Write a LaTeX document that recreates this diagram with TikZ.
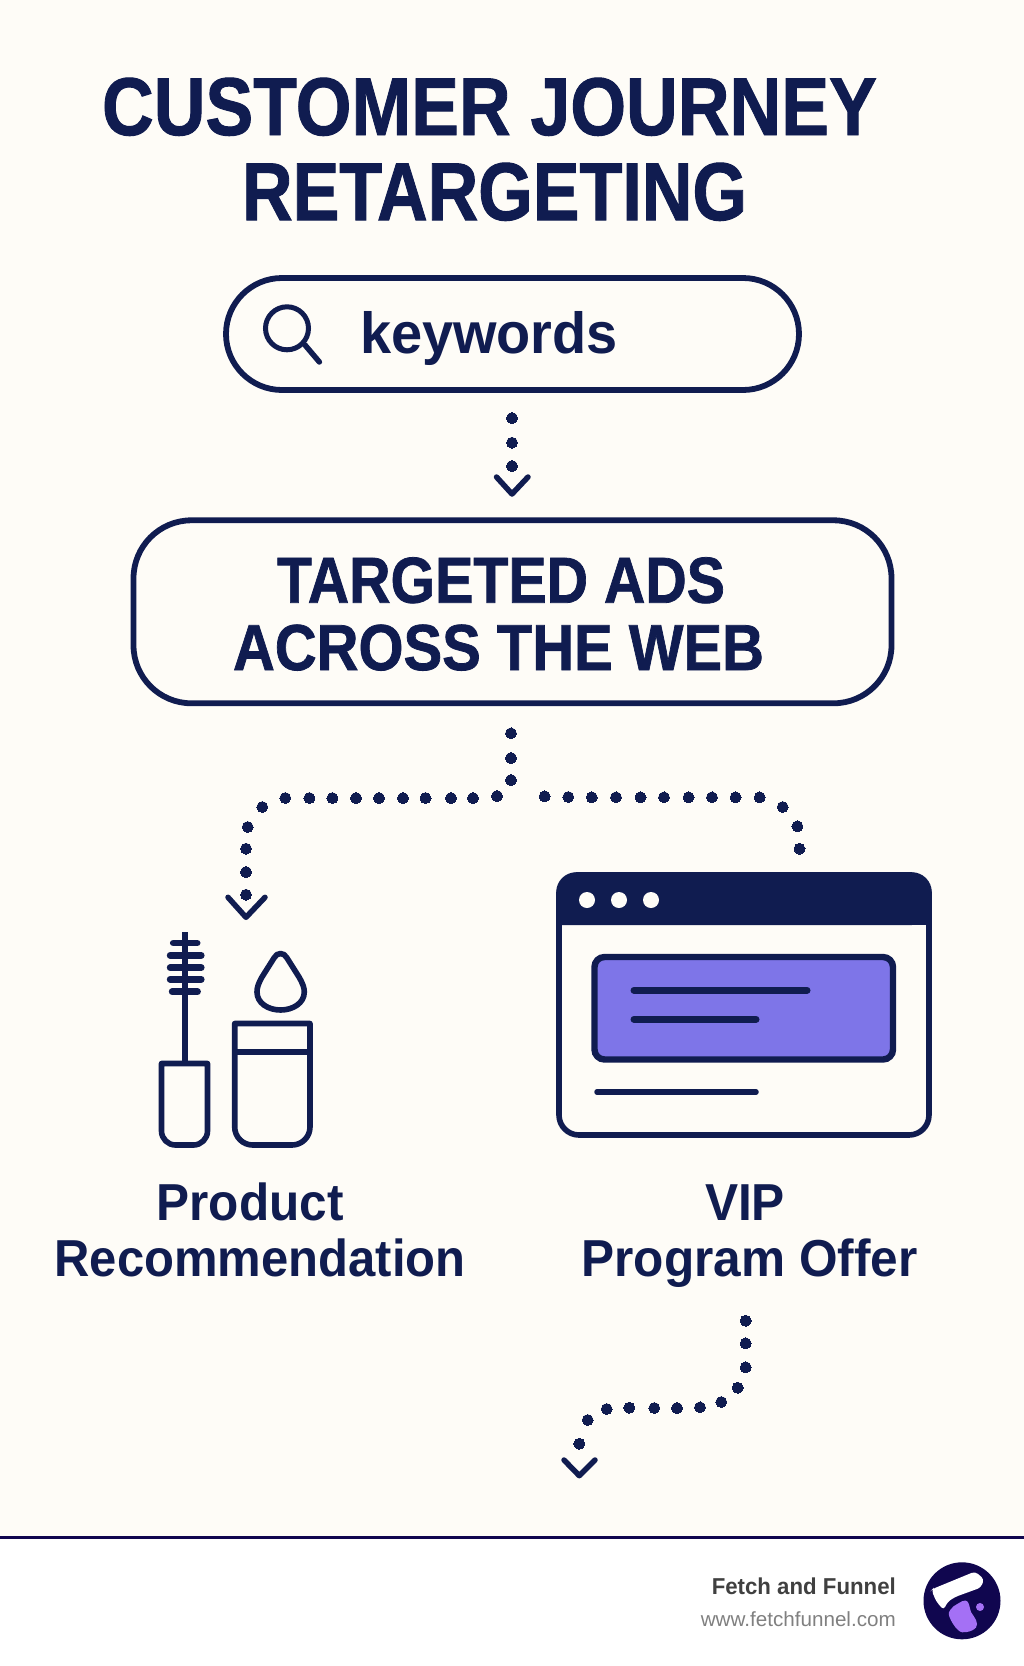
\documentclass[tikz,border=0pt]{standalone}
\usepackage{fontspec}
\usepackage{graphicx}
\setmainfont{Liberation Sans}
\newfontfamily\heavy[BoldFeatures={FakeBold=1.2}]{Liberation Sans}
\definecolor{navy}{HTML}{101C50}
\definecolor{cream}{HTML}{FEFCF7}
\definecolor{violet}{HTML}{7E75E8}
\definecolor{rulec}{HTML}{10064F}
\definecolor{logoviolet}{HTML}{A470F5}
\newcommand{\fitline}[3]{\resizebox{#1pt}{\height}{\fontsize{#2pt}{#2pt}\selectfont\bfseries #3}}
\newcommand{\fitheavy}[3]{\resizebox{#1pt}{\height}{\fontsize{#2pt}{#2pt}\selectfont\heavy\bfseries #3}}
\tikzset{
  x=1pt,y=-1pt,
  txt/.style={inner sep=0pt,outer sep=0pt,text=navy,anchor=base west},
  pill/.style={draw=navy,line width=5.8pt,fill=cream,inner sep=0pt,outer sep=0pt},
  chev/.style={draw=navy,line width=5.5pt,line cap=round,line join=round},
  icon/.style={draw=navy,line width=5.6pt,line join=round},
  dotpath/.style={only marks,mark=*,mark size=5.5pt,mark options={draw=navy,fill=navy,line width=0pt}},
}
\begin{document}
\begin{tikzpicture}
\useasboundingbox (0,0) rectangle (1024,1666);
\fill[cream] (0,0) rectangle (1024,1537);
\fill[white] (0,1537) rectangle (1024,1666);
\draw[rulec,line width=3pt] (0,1537.3) -- (1024,1537.3);
\node[txt] (t1) at (102,135) {\fitheavy{775}{82}{CUSTOMER JOURNEY}};
\node[txt] (t2) at (242,220) {\fitheavy{505}{82}{RETARGETING}};
\node[pill,rounded corners=56pt,minimum width=573pt,minimum height=112pt] (search) at (512.5,334) {};
\draw[navy,line width=5pt] (287,328.3) circle (21.5);
\draw[navy,line width=5.5pt,line cap=round] (305,345) -- (319.4,362);
\node[txt] (kw) at (360,353.3) {\fitline{258}{58}{keywords}};
\draw[navy] plot[dotpath] coordinates {(512,418) (512,442.7) (512,466)};
\draw[chev] (496.5,477) -- (512,494) -- (528,477);
\node[pill,rounded corners=58pt,minimum width=758pt,minimum height=183pt] (ads) at (512.5,611.8) {};
\node[txt] (a1) at (277,602.7) {\fitheavy{448}{65}{TARGETED ADS}};
\node[txt] (a2) at (233,670) {\fitheavy{531}{65}{ACROSS THE WEB}};
\draw[navy] plot[dotpath] coordinates {(511,733.3) (511,758) (511,780) (497,796) (473,798) (451,798) (425.5,798) (403,798) (379,798) (356,798) (332.4,798) (309.4,798) (285.3,798) (262.3,807) (247.7,827) (246,848.7) (246,872) (246,894.7)};
\draw[chev] (228,897.3) -- (246,917.3) -- (265,897.3);
\draw[navy] plot[dotpath] coordinates {(544.7,796.3) (568.3,797) (591.8,797.3) (616,797.3) (640.5,797.3) (664,797.3) (688.6,797.3) (712,797.3) (735.6,797.3) (759.7,797.3) (782.7,807) (797.4,826.3) (799.5,848.7)};
\draw[navy] plot[dotpath] coordinates {(745.7,1320.7) (745.7,1343.3) (745.7,1367.3) (737.7,1387.7) (721.3,1402) (700,1407.3) (677,1408) (654.3,1408) (629.3,1407.7) (606.7,1409) (587.7,1420) (579.3,1443.7)};
\draw[chev] (564,1460) -- (579.3,1475.7) -- (595,1460);
% mascara
\draw[navy,line width=5.5pt] (185,932) -- (185,1061);
\foreach \y/\a/\b in {943/170.8/199.6,955.3/167.7/203.7,967.7/167.7/203.7,979.3/167.7/203.7,991.7/169.7/200}
  \draw[navy,line width=6.8pt,line cap=round] (\a+2.5,\y) -- (\b-2.5,\y);
\draw[icon,rounded corners=14pt] (161.5,1063.5) [sharp corners] -- (207.5,1063.5) [rounded corners=14pt] -- (207.5,1145) -- (161.5,1145) [sharp corners] -- cycle;
\draw[icon,rounded corners=18pt] (234.7,1023.5) [sharp corners] -- (310,1023.5) [rounded corners=18pt] -- (310,1145) -- (234.7,1145) [sharp corners] -- cycle;
\draw[icon] (234.7,1051.7) -- (310,1051.7);
\draw[icon] (274,958) .. controls (277,952) and (284,952) .. (287,958) -- (299,977) .. controls (303,984) and (304.3,988) .. (304.3,992) .. controls (304.3,1003) and (293,1010) .. (280.6,1010) .. controls (268,1010) and (257,1003) .. (257,992) .. controls (257,988) and (258,984) .. (262,977) -- cycle;
% browser
\draw[icon,fill=cream,rounded corners=20pt] (559,875) rectangle (929,1135);
\fill[navy,rounded corners=20pt] (556.2,925) -- (556.2,872.2) -- (931.8,872.2) -- (931.8,925) [sharp corners] -- cycle;
\fill[navy] (556.2,900) rectangle (931.8,925);
\foreach \x in {587,619,651} \fill[cream] (\x,900) circle (8);
\draw[draw=navy,line width=6.4pt,fill=violet,rounded corners=10pt] (594.5,957) rectangle (893,1059.5);
\draw[navy,line width=7pt,line cap=round] (634,990.3) -- (807,990.3);
\draw[navy,line width=7pt,line cap=round] (634,1019.3) -- (756,1019.3);
\draw[navy,line width=5.5pt,line cap=round] (597,1092) -- (756,1092);
\node[txt] (p1) at (156.5,1220) {\fitline{187}{52}{Product}};
\node[txt] (p2) at (54.5,1276.5) {\fitline{411}{52}{Recommendation}};
\node[txt] (v1) at (705,1220) {\fitline{80}{52}{VIP}};
\node[txt] (v2) at (581.5,1276.5) {\fitline{336}{52}{Program Offer}};
\node[anchor=base east,inner sep=0pt,text=black!75] (f1) at (896,1594) {\fitline{184}{23}{Fetch and Funnel}};
\node[anchor=base east,inner sep=0pt,text=black!50] (f2) at (896,1626.7) {\resizebox{195pt}{\height}{\fontsize{20.5}{20.5}\selectfont www.fetchfunnel.com}};
% logo
\fill[rulec] (962,1600.8) circle (38.5);
\fill[white,rounded corners=3.5pt] (932.5,1589) -- (975,1571.5) -- (984,1579) -- (981,1587.5) -- (955,1597) -- (947.5,1602) -- (943.5,1610) -- (936,1601) -- (931.5,1590) -- cycle;
\fill[logoviolet] plot[smooth cycle,tension=0.7] coordinates {(965.5,1600.5) (958,1603.5) (950.5,1609.5) (949.5,1617) (958,1630) (966.7,1632) (976,1627.5) (976,1620) (971,1612) (969,1604.5)};
\fill[logoviolet] (980,1607) circle (4);
\end{tikzpicture}
\end{document}
